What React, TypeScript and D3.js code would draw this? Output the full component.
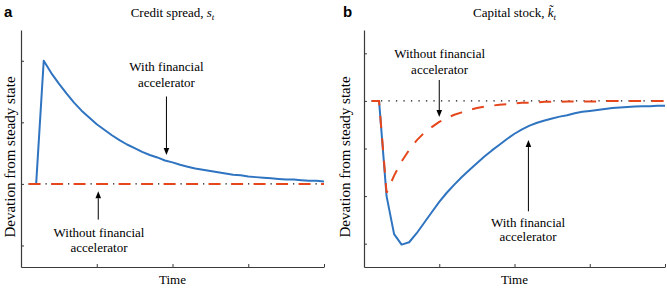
import React, { useRef, useEffect } from "react";
import * as d3 from "d3";

// ---- data ----
const periods = [
  1, 2, 3, 4, 5, 6, 7, 8, 9, 10, 11, 12, 13, 14, 15, 16, 17, 18, 19, 20,
  21, 22, 23, 24, 25, 26, 27, 28, 29, 30, 31, 32, 33, 34, 35, 36, 37, 38, 39, 40,
];

const spreadWith = [
  0, 0, 2.0, 1.8, 1.63, 1.47, 1.32, 1.19, 1.08, 0.97, 0.88, 0.79, 0.71, 0.64,
  0.58, 0.52, 0.47, 0.43, 0.38, 0.35, 0.31, 0.28, 0.25, 0.23, 0.21, 0.19, 0.17,
  0.15, 0.14, 0.12, 0.11, 0.1, 0.09, 0.08, 0.07, 0.07, 0.06, 0.05, 0.05, 0.04,
];
const spreadWithout = [
  0, 0, 0, 0, 0, 0, 0, 0, 0, 0, 0, 0, 0, 0, 0, 0, 0, 0, 0, 0,
  0, 0, 0, 0, 0, 0, 0, 0, 0, 0, 0, 0, 0, 0, 0, 0, 0, 0, 0, 0,
];

const capitalWith = [
  0, 0, -2.0, -2.8, -3.02, -2.97, -2.78, -2.56, -2.34, -2.12, -1.93, -1.76,
  -1.6, -1.45, -1.31, -1.17, -1.04, -0.92, -0.8, -0.69, -0.6, -0.52, -0.46,
  -0.41, -0.37, -0.33, -0.3, -0.26, -0.23, -0.21, -0.19, -0.17, -0.15, -0.14,
  -0.13, -0.12, -0.11, -0.11, -0.1, -0.1,
];
const capitalWithout = [
  0, 0, -1.93, -1.57, -1.27, -1.03, -0.83, -0.67, -0.55, -0.44, -0.36, -0.29,
  -0.24, -0.19, -0.15, -0.12, -0.1, -0.08, -0.07, -0.05, -0.04, -0.04, -0.03,
  -0.02, -0.02, -0.02, -0.01, -0.01, -0.01, -0.01, -0.01, 0, 0, 0, 0, 0, 0, 0,
  0, 0,
];

const xTicks = [10, 20, 30, 40];
const yTicksA = [-1, 0, 1, 2];
const yTicksB = [-3, -2, -1, 0, 1];

const yLabel = "Devation from steady state";
const xLabel = "Time";
const lineWith = ["With financial", "accelerator"];
const lineWithout = ["Without financial", "accelerator"];

const BLUE = "#2f74c0";
const RED = "#e6461c";
const AXIS = "#3a3a3a";
const SERIF = "'Liberation Serif', 'Times New Roman', serif";
const SANS = "'Liberation Sans', Arial, sans-serif";

type Note = { lines: string[]; tx: number; ty: number[]; ax: number; a0: number; a1: number };

type PanelDef = {
  id: string;
  letter: string;
  left: number;
  right: number;
  yDomain: [number, number];
  yTicks: number[];
  withS: number[];
  withoutS: number[];
  labelX: number;
  notes: Note[];
};

const TOP = 30;
const BOTTOM = 267;

const panels: PanelDef[] = [
  {
    id: "a",
    letter: "a",
    left: 21,
    right: 324,
    yDomain: [-1.35, 2.5],
    yTicks: yTicksA,
    withS: spreadWith,
    withoutS: spreadWithout,
    labelX: 15,
    notes: [
      { lines: lineWith, tx: 19.2, ty: [1.83, 1.58], ax: 19.2, a0: 1.42, a1: 0.47 },
      { lines: lineWithout, tx: 10.3, ty: [-0.86, -1.11], ax: 10.2, a0: -0.58, a1: -0.12 },
    ],
  },
  {
    id: "b",
    letter: "b",
    left: 364,
    right: 665,
    yDomain: [-3.49, 1.49],
    yTicks: yTicksB,
    withS: capitalWith,
    withoutS: capitalWithout,
    labelX: 350,
    notes: [
      { lines: lineWithout, tx: 10.05, ty: [0.9, 0.57], ax: 10, a0: 0.44, a1: -0.34 },
      { lines: lineWith, tx: 21.8, ty: [-2.65, -2.95], ax: 21.85, a0: -2.32, a1: -0.82 },
    ],
  },
];

function Panel({ p }: { p: PanelDef }) {
  const xRef = useRef<SVGGElement>(null);
  const yRef = useRef<SVGGElement>(null);
  const x = d3.scaleLinear().domain([0, 40]).range([p.left, p.right]);
  const y = d3.scaleLinear().domain(p.yDomain).range([BOTTOM, TOP]);

  useEffect(() => {
    const gx = d3.select(xRef.current!);
    gx.selectAll("*").remove();
    gx.call(
      d3.axisBottom(x).tickValues(xTicks).tickSizeInner(-3).tickSizeOuter(0).tickFormat(() => "")
    );
    const gy = d3.select(yRef.current!);
    gy.selectAll("*").remove();
    gy.call(
      d3.axisLeft(y).tickValues(p.yTicks).tickSizeInner(-3).tickSizeOuter(0).tickFormat(() => "")
    );
    [gx, gy].forEach((g) => {
      g.select(".domain").attr("stroke", AXIS).attr("stroke-width", 1.2);
      g.selectAll(".tick line").attr("stroke", AXIS).attr("stroke-width", 1);
    });
  });

  const line = d3
    .line<number>()
    .x((_, i) => x(periods[i]))
    .y((d) => y(d));

  const zero = [0, 0];
  const zeroLine = d3
    .line<number>()
    .x((_, i) => x(i === 0 ? periods[0] : periods[periods.length - 1]))
    .y((d) => y(d));

  const midX = (p.left + p.right) / 2;

  return (
    <g>
      <text x={p.id === "a" ? 4 : 343} y={17} fontFamily={SANS} fontWeight="bold" fontSize={15}>
        {p.letter}
      </text>
      {p.id === "a" ? (
        <text x={midX} y={17} textAnchor="middle" fontFamily={SERIF} fontSize={13}>
          Credit spread,{" "}
          <tspan fontStyle="italic">s</tspan>
          <tspan fontStyle="italic" fontSize={9} dy={3}>
            t
          </tspan>
        </text>
      ) : (
        <text x={midX} y={17} textAnchor="middle" fontFamily={SERIF} fontSize={13}>
          Capital stock,{" "}
          <tspan fontStyle="italic">{"k\u0303"}</tspan>
          <tspan fontStyle="italic" fontSize={9} dy={3}>
            t
          </tspan>
        </text>
      )}
      <text
        transform={`translate(${p.labelX},157) rotate(-90)`}
        textAnchor="middle"
        fontFamily={SERIF}
        fontSize={15}
      >
        {yLabel}
      </text>
      <text x={midX} y={284} textAnchor="middle" fontFamily={SERIF} fontSize={13}>
        {xLabel}
      </text>

      <g ref={xRef} transform={`translate(0,${BOTTOM})`} />
      <g ref={yRef} transform={`translate(${p.left},0)`} />

      <path d={zeroLine(zero) || ""} fill="none" stroke="#111" strokeWidth={1.3} strokeDasharray="1.3 6.2" strokeDashoffset={-1.9} />
      <path d={line(p.withS) || ""} fill="none" stroke={BLUE} strokeWidth={2} strokeLinejoin="round" />
      <path d={line(p.withoutS) || ""} fill="none" stroke={RED} strokeWidth={2} strokeDasharray="12 10.5" />

      {p.notes.map((n, k) => {
        const ax = x(n.ax);
        const y0 = y(n.a0);
        const y1 = y(n.a1);
        const dir = y1 > y0 ? 1 : -1;
        const head = 7;
        return (
          <g key={k}>
            {n.lines.map((s, j) => (
              <text key={j} x={x(n.tx)} y={y(n.ty[j])} textAnchor="middle" fontFamily={SERIF} fontSize={13}>
                {s}
              </text>
            ))}
            <line x1={ax} x2={ax} y1={y0} y2={y1 - dir * head} stroke="#000" strokeWidth={1} />
            <path
              d={`M${ax},${y1} L${ax - 2.8},${y1 - dir * head} L${ax + 2.8},${y1 - dir * head} Z`}
              fill="#000"
            />
          </g>
        );
      })}
    </g>
  );
}

export default function App() {
  return (
    <svg
      width={667}
      height={288}
      viewBox="0 0 667 288"
      style={{ position: "absolute", left: 0, top: 0, display: "block", background: "#fff" }}
    >
      <rect width={667} height={288} fill="#fff" />
      {panels.map((p) => (
        <Panel key={p.id} p={p} />
      ))}
    </svg>
  );
}
